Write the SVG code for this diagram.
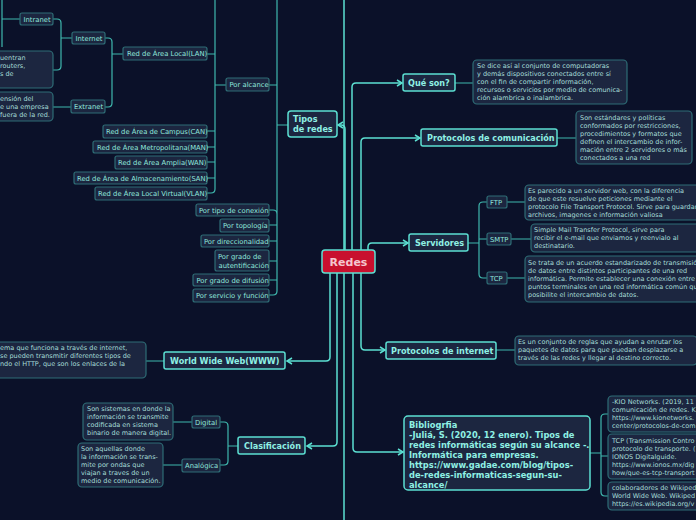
<svg xmlns="http://www.w3.org/2000/svg" width="696" height="520" viewBox="0 0 696 520">
<defs>
<marker id="ar" viewBox="0 0 8 8" refX="6" refY="4" markerWidth="8" markerHeight="8" markerUnits="userSpaceOnUse" orient="auto"><path d="M1,1 L6,4 L1,7" fill="none" stroke="#5ce0d2" stroke-width="1.5"/></marker>
<style>
.bg{fill:#0b1129}
.c{fill:none;stroke:#5ce0d2;stroke-width:1.5}
.c2{fill:none;stroke:#3fb8ae;stroke-width:1.2}
.m{fill:#1c2640;stroke:#5ce0d2;stroke-width:1.5}
.s{fill:#1c2640;stroke:#2e6d76;stroke-width:1.2}
.tm{font-family:"DejaVu Sans",sans-serif;font-size:8.1px;font-weight:bold;fill:#8ff0e4}
.tb{font-family:"DejaVu Sans",sans-serif;font-size:8.3px;font-weight:bold;fill:#8ff0e4}
.ts{font-family:"DejaVu Sans",sans-serif;font-size:6.8px;fill:#8fe6dc}
.td{font-family:"DejaVu Sans",sans-serif;font-size:6.5px;fill:#a6ddd8}
</style>
</defs>
<rect class="bg" width="696" height="520"/>
<g id="connectors">
<path class="c" d="M344,0 V520"/>
<path class="c" d="M345,250 V129 Q345,125 341,125 H338" marker-end="url(#ar)"/>
<path class="c" d="M352,250 V87 Q352,83 356,83 H402" marker-end="url(#ar)"/>
<path class="c" d="M361,250 V142 Q361,138 365,138 H420" marker-end="url(#ar)"/>
<path class="c" d="M368,250 V247 Q368,243 372,243 H408" marker-end="url(#ar)"/>
<path class="c" d="M361,273 V346 Q361,350 365,350 H385" marker-end="url(#ar)"/>
<path class="c" d="M353,273 V448 Q353,452 357,452 H403" marker-end="url(#ar)"/>
<path class="c" d="M330,273 V357 Q330,361 326,361 H287" marker-end="url(#ar)"/>
<path class="c" d="M337,273 V442 Q337,446 333,446 H307" marker-end="url(#ar)"/>
<path class="c2" d="M288,125 H277 M277,0 V291 Q277,295 273,295 H269 M269,85 H277 M269,210 H273 Q277,210 277,214 M269,225 H277 M269,241 H277 M269,261 H277 M269,280 H277"/>
<path class="c2" d="M226,85 H215 M215,0 V189 Q215,193 211,193 H207 M207,54 H215 M207,131 H215 M207,147 H215 M207,162 H215 M207,178 H215"/>
<path class="c2" d="M123,54 H112 M105,38 H108 Q112,38 112,42 V103 Q112,107 108,107 H105"/>
<path class="c2" d="M72,38 H61 M53,19 H57 Q61,19 61,23 V66 Q61,70 57,70 H53 M71,107 H53 M20,19 H2 M2,0 V47"/>
<path class="c2" d="M455,83 H473 M557,138 H576 M496,350 H515 M285,361 H146"/>
<path class="c2" d="M468,243 H479 M487,202 H483 Q479,202 479,206 V274 Q479,278 483,278 H487 M479,239 H487 M507,202 H525 M511,239 H531 M507,278 H525"/>
<path class="c2" d="M238,446 H228 M220,422 H224 Q228,422 228,426 V461 Q228,465 224,465 H220 M192,422 H173 M182,465 H163"/>
<path class="c2" d="M590,453 H601 M608,414 H605 Q601,414 601,418 V492 Q601,496 605,496 H608 M601,456 H608"/>
</g>
<g id="redes"><rect x="322" y="250" width="53" height="23" rx="3" fill="#c8102e" stroke="#5ce0d2" stroke-width="1.5"/><text x="348.5" y="265.5" text-anchor="middle" font-family="DejaVu Sans,sans-serif" font-size="11" font-weight="bold" fill="#f4c6cf">Redes</text></g>
<g id="tipos"><rect class="m" x="288" y="111" width="49" height="26" rx="3"/><text class="tm" x="293" y="122">Tipos</text><text class="tm" x="293" y="132">de redes</text></g>
<g id="porAlcance"><rect class="s" x="226" y="78" width="43" height="13" rx="2"/><text class="ts" x="229.5" y="87">Por alcance</text></g>
<g id="lan"><rect class="s" x="123" y="47" width="84" height="13" rx="2"/><text class="ts" x="127" y="56">Red de Área Local(LAN)</text></g>
<g id="internet"><rect class="s" x="72" y="32" width="33" height="12" rx="2"/><text class="ts" x="75.5" y="41">Internet</text></g>
<g id="intranet"><rect class="s" x="20" y="13" width="33" height="12" rx="2"/><text class="ts" x="23.5" y="22">Intranet</text></g>
<g id="extranet"><rect class="s" x="71" y="100" width="34" height="13" rx="2"/><text class="ts" x="74" y="109">Extranet</text></g>
<g id="intranetDesc"><rect class="s" x="-10" y="51" width="63" height="37" rx="4"/><text class="td" x="0" y="60">uentran</text><text class="td" x="0" y="68">routers,</text><text class="td" x="0" y="76">s de</text></g>
<g id="extranetDesc"><rect class="s" x="-10" y="92" width="63" height="29" rx="4"/><text class="td" x="0" y="101">ensión del</text><text class="td" x="0" y="109">e una empresa</text><text class="td" x="0" y="117">fuera de la red.</text></g>
<g id="can"><rect class="s" x="103" y="125" width="104" height="13" rx="2"/><text class="ts" x="106" y="134">Red de Área de Campus(CAN)</text></g>
<g id="man"><rect class="s" x="93" y="141" width="114" height="12" rx="2"/><text class="ts" x="97" y="150">Red de Área Metropolitana(MAN)</text></g>
<g id="wan"><rect class="s" x="115" y="156" width="92" height="13" rx="2"/><text class="ts" x="118" y="165">Red de Área Amplia(WAN)</text></g>
<g id="san"><rect class="s" x="74" y="172" width="133" height="12" rx="2"/><text class="ts" x="77" y="181">Red de Área de Almacenamiento(SAN)</text></g>
<g id="vlan"><rect class="s" x="95" y="187" width="112" height="13" rx="2"/><text class="ts" x="98" y="196">Red de Área Local Virtual(VLAN)</text></g>
<g id="conexion"><rect class="s" x="196" y="204" width="73" height="12" rx="2"/><text class="ts" x="199" y="213">Por tipo de conexión</text></g>
<g id="topologia"><rect class="s" x="220" y="219" width="49" height="13" rx="2"/><text class="ts" x="223" y="228">Por topología</text></g>
<g id="direccionalidad"><rect class="s" x="201" y="235" width="68" height="12" rx="2"/><text class="ts" x="204" y="244">Por direccionalidad</text></g>
<g id="autentificacion"><rect class="s" x="215" y="250" width="54" height="21" rx="2"/><text class="ts" x="218" y="259">Por grado de</text><text class="ts" x="218.5" y="267.5">autentificación</text></g>
<g id="difusion"><rect class="s" x="193" y="274" width="76" height="12" rx="2"/><text class="ts" x="196.5" y="283">Por grado de difusión</text></g>
<g id="servicio"><rect class="s" x="193" y="289" width="76" height="13" rx="2"/><text class="ts" x="196" y="298">Por servicio y función</text></g>
<g id="queSon"><rect class="m" x="403" y="74" width="52" height="17" rx="2"/><text class="tm" x="408" y="86">Qué son?</text></g>
<g id="queSonDesc"><rect class="s" x="473" y="60" width="154" height="44" rx="4"/><text class="td" x="477" y="68">Se dice así al conjunto de computadoras</text><text class="td" x="477" y="76">y demás dispositivos conectados entre sí</text><text class="td" x="477" y="84">con el fin de compartir información,</text><text class="td" x="477" y="92">recursos o servicios por medio de comunica-</text><text class="td" x="477" y="100">ción alambrica o inalambrica.</text></g>
<g id="protCom"><rect class="m" x="421" y="129" width="136" height="17" rx="2"/><text class="tm" x="427" y="141">Protocolos de comunicación</text></g>
<g id="protComDesc"><rect class="s" x="576" y="111" width="116" height="53" rx="4"/><text class="td" x="580" y="120">Son estándares y políticas</text><text class="td" x="580" y="128">conformados por restricciones,</text><text class="td" x="580" y="136">procedimientos y formatos que</text><text class="td" x="580" y="144">definen el intercambio de infor-</text><text class="td" x="580" y="152">mación entre 2 servidores o más</text><text class="td" x="580" y="160">conectados a una red</text></g>
<g id="servidores"><rect class="m" x="409" y="234" width="59" height="17" rx="2"/><text class="tm" x="415" y="246">Servidores</text></g>
<g id="ftp"><rect class="s" x="487" y="196" width="20" height="12" rx="2"/><text class="ts" x="490" y="205">FTP</text></g>
<g id="ftpDesc"><rect class="s" x="525" y="185" width="180" height="35" rx="4"/><text class="td" x="528" y="193">Es parecido a un servidor web, con la diferencia</text><text class="td" x="528" y="201">de que este resuelve peticiones mediante el</text><text class="td" x="528" y="209">protocolo File Transport Protocol. Sirve para guardar</text><text class="td" x="528" y="217">archivos, imagenes e información valiosa</text></g>
<g id="smtp"><rect class="s" x="487" y="233" width="24" height="12" rx="2"/><text class="ts" x="490" y="242">SMTP</text></g>
<g id="smtpDesc"><rect class="s" x="531" y="224" width="175" height="28" rx="4"/><text class="td" x="534" y="232">Simple Mail Transfer Protocol, sirve para</text><text class="td" x="534" y="240">recibir el e-mail que enviamos y reenvialo al</text><text class="td" x="534" y="248">destinatario.</text></g>
<g id="tcp"><rect class="s" x="487" y="272" width="20" height="12" rx="2"/><text class="ts" x="490" y="281">TCP</text></g>
<g id="tcpDesc"><rect class="s" x="525" y="256" width="180" height="46" rx="4"/><text class="td" x="528" y="265">Se trata de un acuerdo estandarizado de transmisión</text><text class="td" x="528" y="273">de datos entre distintos participantes de una red</text><text class="td" x="528" y="281">informática. Permite establecer una conexión entre</text><text class="td" x="528" y="289">puntos terminales en una red informática común que</text><text class="td" x="528" y="297">posibilite el intercambio de datos.</text></g>
<g id="protInt"><rect class="m" x="386" y="342" width="110" height="17" rx="2"/><text class="tm" x="391" y="354">Protocolos de internet</text></g>
<g id="protIntDesc"><rect class="s" x="515" y="336" width="182" height="29" rx="4"/><text class="td" x="518" y="344">Es un conjunto de reglas que ayudan a enrutar los</text><text class="td" x="518" y="352">paquetes de datos para que puedan desplazarse a</text><text class="td" x="518" y="360">través de las redes y llegar al destino correcto.</text></g>
<g id="biblio"><rect class="m" x="404" y="416" width="186" height="74" rx="4"/>
<text class="tb" x="409" y="428">Bibliogrfia</text><text class="tb" x="409" y="438">-Juliá, S. (2020, 12 enero). Tipos de</text><text class="tb" x="409" y="448">redes informáticas según su alcance -.</text><text class="tb" x="409" y="458">Informática para empresas.</text><text class="tb" x="409" y="468">https://www.gadae.com/blog/tipos-</text><text class="tb" x="409" y="478">de-redes-informaticas-segun-su-</text><text class="tb" x="409" y="488">alcance/</text></g>
<g id="ref1"><rect class="s" x="608" y="396" width="100" height="36" rx="4"/><text class="td" x="612" y="404">-KIO Networks. (2019, 11</text><text class="td" x="612" y="412">comunicación de redes. K</text><text class="td" x="612" y="420">https://www.kionetworks.</text><text class="td" x="612" y="428">center/protocolos-de-com</text></g>
<g id="ref2"><rect class="s" x="608" y="434" width="100" height="45" rx="4"/><text class="td" x="612" y="443">TCP (Transmission Contro</text><text class="td" x="612" y="451">protocolo de transporte. (</text><text class="td" x="612" y="459">IONOS Digitalguide.</text><text class="td" x="612" y="467">https://www.ionos.mx/dig</text><text class="td" x="612" y="475">how/que-es-tcp-transport</text></g>
<g id="ref3"><rect class="s" x="608" y="482" width="100" height="28" rx="4"/><text class="td" x="612" y="490">colaboradores de Wikiped</text><text class="td" x="612" y="498">World Wide Web. Wikiped</text><text class="td" x="612" y="506">https://es.wikipedia.org/v</text></g>
<g id="www"><rect class="m" x="164" y="352" width="121" height="17" rx="2"/><text class="tm" x="170" y="364">World Wide Web(WWW)</text></g>
<g id="wwwDesc"><rect class="s" x="-10" y="342" width="156" height="36" rx="4"/><text class="td" x="0" y="350">ema que funciona a través de internet,</text><text class="td" x="0" y="358">se pueden transmitir diferentes tipos de</text><text class="td" x="0" y="366">ndo el HTTP, que son los enlaces de la</text></g>
<g id="clasif"><rect class="m" x="238" y="437" width="67" height="17" rx="2"/><text class="tm" x="244" y="449">Clasificación</text></g>
<g id="digital"><rect class="s" x="192" y="416" width="28" height="12" rx="2"/><text class="ts" x="195" y="425">Digital</text></g>
<g id="digitalDesc"><rect class="s" x="83" y="403" width="90" height="37" rx="4"/><text class="td" x="87" y="411">Son sistemas en donde la</text><text class="td" x="87" y="419">información se transmite</text><text class="td" x="87" y="427">codificada en sistema</text><text class="td" x="87" y="435">binario de manera digital.</text></g>
<g id="analogica"><rect class="s" x="182" y="459" width="38" height="13" rx="2"/><text class="ts" x="185" y="468">Analógica</text></g>
<g id="analogicaDesc"><rect class="s" x="78" y="443" width="85" height="44" rx="4"/><text class="td" x="81" y="451">Son aquellas donde</text><text class="td" x="81" y="459">la información se trans-</text><text class="td" x="81" y="467">mite por ondas que</text><text class="td" x="81" y="475">viajan a traves de un</text><text class="td" x="81" y="483">medio de comunicación.</text></g>
</svg>
